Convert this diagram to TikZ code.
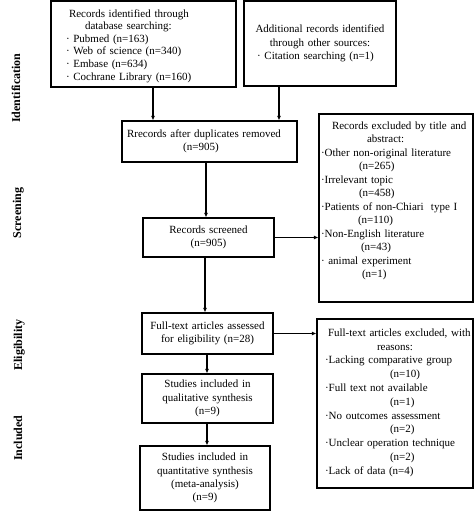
\documentclass[tikz,border=0pt]{standalone}
\usepackage{fontspec}
\setmainfont{Liberation Serif}
\usetikzlibrary{arrows.meta}
\newcommand{\padr}[1]{\makebox[#1]{}}
\newcommand{\lift}[1]{\rule[-#1]{0pt}{#1}}
\begin{document}
\begin{tikzpicture}[x=1pt,y=-1pt,
  box/.style={draw=black, line width=1.1pt, inner xsep=0pt, inner ysep=0pt,
    font=\fontsize{11}{13.5}\selectfont},
  sidelabel/.style={rotate=90, anchor=base, font=\fontsize{12}{14}\selectfont\bfseries},
  arr/.style={line width=1.1pt, -{Latex[length=4.5pt,width=4pt]}}]
\useasboundingbox (0,0) rectangle (474,512);

% side labels
\node[sidelabel] (l1) at (20,88) {Identification};
\node[sidelabel] (l2) at (21,213) {Screening};
\node[sidelabel] (l3) at (22,345) {Eligibility};
\node[sidelabel] (l4) at (22,438) {Included};

% boxes
\node[box, text width=185pt, minimum height=86pt, align=left,
  font=\fontsize{11}{12.6}\selectfont] (b1) at (143.5,44)
  {\hspace*{18pt}\rule{0pt}{11.5pt}Records identified through\\
   \hspace*{34pt}database searching:\\
   \hspace*{15pt}· Pubmed (n=163)\\
   \hspace*{15pt}· Web of science (n=340)\\
   \hspace*{15pt}· Embase (n=634)\\
   \hspace*{15pt}· Cochrane Library (n=160)};

\node[box, text width=152pt, minimum height=85pt, align=center] (b2) at (320,43.5)
  {Additional records identified\\ through other sources:\\ · Citation searching (n=1)\padr{9pt}};

\node[box, text width=175pt, minimum height=41pt, align=center] (b3) at (209.5,141.5)
  {Rrecords after duplicates removed\padr{11pt}\\ (n=905)\padr{17pt}};

\node[box, text width=131pt, minimum height=39pt, align=center] (b4) at (208.5,237.5)
  {Records screened\\ (n=905)};

\node[box, text width=154pt, minimum height=188pt, align=left] (b5) at (396,208)
  {\hspace*{13pt}Records excluded by title and\\
   \hspace*{48pt}abstract:\\
   \hspace*{2pt}·Other non-original literature\\
   \hspace*{40pt}(n=265)\\
   \hspace*{2pt}·Irrelevant topic\\
   \hspace*{40pt}(n=458)\\
   \hspace*{2pt}·Patients of non-Chiari\ \ type I\\
   \hspace*{39pt}(n=110)\\
   \hspace*{2pt}·Non-English literature\\
   \hspace*{42pt}(n=43)\\
   \hspace*{2pt}· animal experiment\\
   \hspace*{43pt}(n=1)\lift{17pt}};

\node[box, text width=131pt, minimum height=41pt, align=center] (b6) at (207.5,333.5)
  {Full-text articles assessed\\ for eligibility (n=28)};

\node[box, text width=156pt, minimum height=169pt, align=left,
  font=\fontsize{11}{13.8}\selectfont] (b7) at (395,403.5)
  {\hspace*{11pt}Full-text articles excluded, with\\
   \hspace*{60pt}reasons:\\
   \hspace*{8pt}·Lacking comparative group\\
   \hspace*{73pt}(n=10)\\
   \hspace*{8pt}·Full text not available\\
   \hspace*{73pt}(n=1)\\
   \hspace*{8pt}·No outcomes assessment\\
   \hspace*{73pt}(n=2)\\
   \hspace*{8pt}·Unclear operation technique\\
   \hspace*{73pt}(n=2)\\
   \hspace*{8pt}\makebox[64pt][l]{·Lack of data}(n=4)\lift{4pt}};

\node[box, text width=131pt, minimum height=49pt, align=center] (b8) at (207.5,398.5)
  {Studies included in\\ qualitative synthesis\\ (n=9)};

\node[box, text width=130pt, minimum height=64pt, align=center,
  font=\fontsize{11}{13.3}\selectfont] (b9) at (205,478)
  {Studies included in\\ quantitative synthesis\\ (meta-analysis)\\ (n=9)};

% connectors
\coordinate (c1) at (153,0);
\coordinate (c2) at (279,0);
\coordinate (c3) at (206,0);
\coordinate (c5) at (205,0);
\coordinate (c6) at (207,0);
\draw[arr] (b1.south -| c1) -- (b3.north -| c1);
\draw[arr] (b2.south -| c2) -- (b3.north -| c2);
\draw[arr] (b3.south -| c3) -- (b4.north -| c3);
\draw[arr] (b4.east) -- (b4.east -| b5.west);
\draw[arr] (b4.south -| c5) -- (b6.north -| c5);
\draw[arr] (b6.east) -- (b6.east -| b7.west);
\draw[arr] (b6.south -| c6) -- (b8.north -| c6);
\draw[arr] (b8.south -| c6) -- (b9.north -| c6);
\end{tikzpicture}
\end{document}
